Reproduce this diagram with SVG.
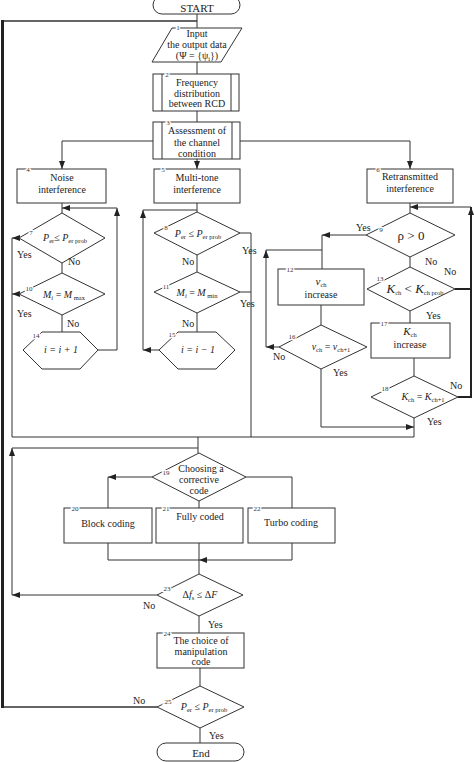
<svg xmlns="http://www.w3.org/2000/svg" width="474" height="762" viewBox="0 0 474 762">
<style>
.n{fill:#fff;stroke:#333;stroke-width:1}
.c{fill:none;stroke:#333;stroke-width:1}
.k{fill:none;stroke:#222;stroke-width:2}
text{font-family:'Liberation Serif','DejaVu Serif',serif}
.t{font-size:10px;fill:#222;text-anchor:middle}
.l{font-size:10px;fill:#222}
.num{font-size:7px;fill:#333;stroke:#fff;stroke-width:2.5;paint-order:stroke;text-anchor:middle}
.i{font-style:italic}
.s{font-size:6.5px}
</style>
<defs>
<marker id="a" markerUnits="userSpaceOnUse" markerWidth="8" markerHeight="6" refX="8" refY="3" orient="auto">
<path d="M0,0 L8,3 L0,6 z" fill="#222"/>
</marker>
</defs>
<rect width="474" height="762" fill="#fff"/>
<g id="connectors">
<path class="c" d="M197 14 V28"/>
<path class="c" d="M197 62 V74"/>
<path class="c" d="M197 111 V122"/>
<path class="c" d="M197 159 V169" marker-end="url(#a)"/>
<path class="c" d="M153 141 H62 V169" marker-end="url(#a)"/>
<path class="c" d="M240 141 H410 V169" marker-end="url(#a)"/>
<path class="c" d="M62 203 V213"/>
<path class="c" d="M62 263 V273"/>
<path class="c" d="M62 315 V332"/>
<path class="c" d="M19 238 H12" marker-end="url(#a)"/>
<path class="c" d="M19 294 H12" marker-end="url(#a)"/>
<path class="c" d="M12 238 V437"/>
<path class="c" d="M98 350 H117 V208" marker-end="url(#a)"/>
<path class="c" d="M117 208 H62" marker-end="url(#a)"/>
<path class="c" d="M197 203 V212"/>
<path class="c" d="M197 255 V272"/>
<path class="c" d="M197 313 V332"/>
<path class="c" d="M240 233 H251 V437"/>
<path class="c" d="M240 292 H251"/>
<path class="c" d="M159 350 H143" marker-end="url(#a)"/>
<path class="c" d="M143 350 V210" marker-end="url(#a)"/>
<path class="c" d="M143 210 H197"/>
<path class="c" d="M410 203 V213"/>
<path class="c" d="M410 257 V267"/>
<path class="c" d="M366 235 H322" marker-end="url(#a)"/>
<path class="c" d="M322 235 V269"/>
<path class="c" d="M321 305 V325"/>
<path class="c" d="M279 347 H266" marker-end="url(#a)"/>
<path class="c" d="M266 347 V250" marker-end="url(#a)"/>
<path class="c" d="M266 250 H322"/>
<path class="c" d="M321 369 V427 H414" marker-end="url(#a)"/>
<path class="c" d="M410 311 V323"/>
<path class="c" d="M414 358 V376"/>
<path class="c" d="M414 418 V437"/>
<path class="k" d="M455 289 H471"/>
<path class="k" d="M458 397 H471 V207" marker-end="url(#a)"/>
<path class="c" d="M471 207 H410" marker-end="url(#a)"/>
<path class="c" d="M12 437 H414"/>
<path class="c" d="M198 437 V453"/>
<path class="c" d="M157 595 H12" marker-end="url(#a)"/>
<path class="c" d="M12 595 V448" marker-end="url(#a)"/>
<path class="c" d="M12 448 H198"/>
<path class="c" d="M152 477 H108" marker-end="url(#a)"/>
<path class="c" d="M108 477 V508"/>
<path class="c" d="M246 477 H292 V508"/>
<path class="c" d="M199 501 V508"/>
<path class="c" d="M108 543 V560 H199"/>
<path class="c" d="M292 543 V560 H199" marker-end="url(#a)"/>
<path class="c" d="M199 543 V574"/>
<path class="c" d="M199 616 V633"/>
<path class="c" d="M200 668 V686"/>
<path class="c" d="M200 728 V743"/>
<path class="c" style="stroke-width:1.6" d="M157 707 H2.5 V21 H197"/>
<path class="k" style="stroke-width:3" d="M2.5 20 V708"/>
</g>
<g id="start"><rect class="n" x="153" y="-4" width="87" height="18" rx="9"/><text class="t" x="197" y="12" style="font-size:11px">START</text></g>
<g id="n1"><polygon class="n" points="172,28 242,28 221,62 152,62"/><text class="num" x="178" y="30">1</text><text class="t" x="197" y="37">Input</text><text class="t" x="197" y="48">the output data</text><text class="t" x="197" y="59">(Ψ = {ψ<tspan class="s" dy="2">i</tspan><tspan dy="-2">})</tspan></text></g>
<g id="n2"><rect class="n" x="153" y="74" width="86" height="37"/><line class="c" x1="162" y1="74" x2="162" y2="111"/><line class="c" x1="231" y1="74" x2="231" y2="111"/><text class="num" x="167" y="76.5">2</text><text class="t" x="197" y="86">Frequency</text><text class="t" x="197" y="97">distribution</text><text class="t" x="197" y="107">between RCD</text></g>
<g id="n3"><rect class="n" x="153" y="122" width="87" height="37"/><line class="c" x1="162" y1="122" x2="162" y2="159"/><line class="c" x1="232" y1="122" x2="232" y2="159"/><text class="num" x="168" y="124.5">3</text><text class="t" x="197" y="134">Assessment of</text><text class="t" x="197" y="145.5">the channel</text><text class="t" x="197" y="156.5">condition</text></g>
<g id="n4"><rect class="n" x="17" y="169" width="89" height="34"/><text class="num" x="28" y="171.5">4</text><text class="t" x="62" y="181">Noise</text><text class="t" x="62" y="193">interference</text></g>
<g id="n5"><rect class="n" x="154" y="169" width="86" height="34"/><text class="num" x="163" y="171.5">5</text><text class="t" x="197" y="181">Multi-tone</text><text class="t" x="197" y="193">interference</text></g>
<g id="n6"><rect class="n" x="367" y="169" width="86" height="34"/><text class="num" x="378" y="171.5">6</text><text class="t" x="410" y="180">Retransmitted</text><text class="t" x="410" y="192">interference</text></g>
<g id="n7"><polygon class="n" points="62,213 105,238 62,263 19,238"/><text class="num" x="31" y="235">7</text><text class="t" x="65" y="241"><tspan class="i">P</tspan><tspan class="s" dy="1.5">er</tspan><tspan dy="-1.5">≤ </tspan><tspan class="i">P</tspan><tspan class="s" dy="1.5">er prob</tspan></text><text class="l" x="17" y="258">Yes</text><text class="l" x="68" y="265">No</text></g>
<g id="n10"><polygon class="n" points="62,273 105,294 62,315 19,294"/><text class="num" x="29" y="291">10</text><text class="t" x="64" y="298"><tspan class="i">M</tspan><tspan class="s i" dy="2">i</tspan><tspan dy="-2"> = </tspan><tspan class="i">M</tspan><tspan class="s" dy="2"> max</tspan></text><text class="l" x="17" y="317">Yes</text><text class="l" x="67" y="327">No</text></g>
<g id="n14"><polygon class="n" points="42,332 80,332 98,350 80,369 42,369 23,350"/><text class="num" x="36" y="338">14</text><text class="t i" x="61" y="353">i = i + 1</text></g>
<g id="n8"><polygon class="n" points="197,212 240,233 197,255 154,233"/><text class="num" x="166" y="230">8</text><text class="t" x="198" y="237"><tspan class="i">P</tspan><tspan class="s" dy="1.5">er</tspan><tspan dy="-1.5"> ≤ </tspan><tspan class="i">P</tspan><tspan class="s" dy="1.5">er prob</tspan></text><text class="l" x="242" y="254">Yes</text><text class="l" x="182" y="265">No</text></g>
<g id="n11"><polygon class="n" points="197,272 240,292 197,313 154,292"/><text class="num" x="166" y="289">11</text><text class="t" x="197" y="296"><tspan class="i">M</tspan><tspan class="s i" dy="2">i</tspan><tspan dy="-2"> = </tspan><tspan class="i">M</tspan><tspan class="s" dy="2"> min</tspan></text><text class="l" x="240" y="307">Yes</text><text class="l" x="182" y="327">No</text></g>
<g id="n15"><polygon class="n" points="178,332 216,332 235,350 216,369 178,369 159,350"/><text class="num" x="172" y="337">15</text><text class="t i" x="198" y="353">i = i − 1</text></g>
<g id="n9"><polygon class="n" points="410,213 455,235 410,257 366,235"/><text class="num" x="381" y="232">9</text><text class="t" x="411" y="240" style="font-size:13px">ρ &gt; 0</text><text class="l" x="356" y="231">Yes</text><text class="l" x="425" y="265">No</text></g>
<g id="n13"><polygon class="n" points="410,267 455,289 410,311 367,289"/><text class="num" x="380" y="281">13</text><text class="t" x="415" y="293"><tspan class="i" style="font-size:13px">K</tspan><tspan class="s" dy="2">ch</tspan><tspan dy="-2" style="font-size:13px"> &lt; </tspan><tspan class="i" style="font-size:13px">K</tspan><tspan class="s" dy="2">ch prob</tspan></text><text class="l" x="444" y="275">No</text><text class="l" x="426" y="319">Yes</text></g>
<g id="n12"><rect class="n" x="278" y="269" width="86" height="36"/><text class="num" x="290" y="271.5">12</text><text class="t" x="321" y="285"><tspan class="i" style="font-size:11px">v</tspan><tspan class="s" dy="2">ch</tspan></text><text class="t" x="321" y="298">increase</text></g>
<g id="n16"><polygon class="n" points="321,325 367,347 321,369 279,347"/><text class="num" x="292" y="339">16</text><text class="t" x="331" y="350"><tspan class="i">v</tspan><tspan class="s" dy="1.5">ch</tspan><tspan dy="-1.5"> = </tspan><tspan class="i">v</tspan><tspan class="s" dy="1.5">ch+1</tspan></text><text class="l" x="273" y="360">No</text><text class="l" x="333" y="376">Yes</text></g>
<g id="n17"><rect class="n" x="371" y="323" width="79" height="35"/><text class="num" x="384" y="325.5">17</text><text class="t" x="410" y="335"><tspan class="i" style="font-size:11px">K</tspan><tspan class="s" dy="2">ch</tspan></text><text class="t" x="410" y="348">increase</text></g>
<g id="n18"><polygon class="n" points="414,376 458,397 414,418 371,397"/><text class="num" x="385" y="391">18</text><text class="t" x="423" y="400"><tspan class="i">K</tspan><tspan class="s" dy="1.5">ch</tspan><tspan dy="-1.5"> = </tspan><tspan class="i">K</tspan><tspan class="s" dy="1.5">ch+1</tspan></text><text class="l" x="450" y="389">No</text><text class="l" x="427" y="425">Yes</text></g>
<g id="n19"><polygon class="n" points="199,453 246,477 199,501 152,477"/><text class="num" x="166" y="475">19</text><text class="t" x="201" y="472">Choosing a</text><text class="t" x="199" y="483">corrective</text><text class="t" x="199" y="494">code</text></g>
<g id="n20"><rect class="n" x="64" y="508" width="88" height="35"/><text class="num" x="75" y="510.5">20</text><text class="t" x="108" y="527">Block coding</text></g>
<g id="n21"><rect class="n" x="156" y="508" width="87" height="35"/><text class="num" x="166" y="510.5">21</text><text class="t" x="200" y="520">Fully coded</text></g>
<g id="n22"><rect class="n" x="248" y="508" width="87" height="35"/><text class="num" x="257" y="510.5">22</text><text class="t" x="291" y="526">Turbo coding</text></g>
<g id="n23"><polygon class="n" points="199,574 243,595 199,616 157,595"/><text class="num" x="167" y="591">23</text><text class="t" x="200" y="598"><tspan>Δ</tspan><tspan class="i">f</tspan><tspan class="s" dy="2">s</tspan><tspan dy="-2"> ≤ Δ</tspan><tspan class="i">F</tspan></text><text class="l" x="143" y="609">No</text><text class="l" x="208" y="628">Yes</text></g>
<g id="n24"><rect class="n" x="157" y="633" width="87" height="35"/><text class="num" x="167" y="635.5">24</text><text class="t" x="201" y="644">The choice of</text><text class="t" x="201" y="654.5">manipulation</text><text class="t" x="201" y="665">code</text></g>
<g id="n25"><polygon class="n" points="200,686 244,707 200,728 157,707"/><text class="num" x="168" y="704">25</text><text class="t" x="204" y="710"><tspan class="i">P</tspan><tspan class="s" dy="1.5">er</tspan><tspan dy="-1.5"> ≤ </tspan><tspan class="i">P</tspan><tspan class="s" dy="1.5">er prob</tspan></text><text class="l" x="133" y="704">No</text><text class="l" x="209" y="739">Yes</text></g>
<g id="end"><rect class="n" x="157" y="743" width="87" height="18" rx="9"/><text class="t" x="201" y="757" style="font-size:11px">End</text></g>
</svg>
